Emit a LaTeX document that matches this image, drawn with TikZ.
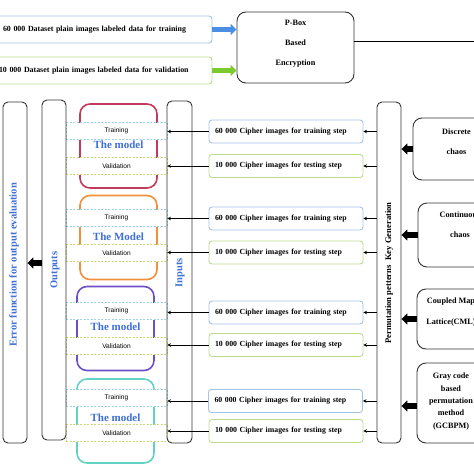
\documentclass[tikz,border=0pt]{standalone}
\usepackage{fontspec}
\setmainfont{Liberation Serif}
\newfontfamily\labsans{Liberation Sans}
\usetikzlibrary{arrows.meta}
\definecolor{bordblue}{HTML}{A4C2E8}
\definecolor{bordgreen}{HTML}{BBDB8E}
\definecolor{arrblue}{HTML}{4A8FE3}
\definecolor{arrgreen}{HTML}{7CCB2E}
\definecolor{mred}{HTML}{C23A5C}
\definecolor{morange}{HTML}{F0903C}
\definecolor{mpurple}{HTML}{6B50C8}
\definecolor{mteal}{HTML}{62D2C2}
\definecolor{tblue}{HTML}{3D6FD6}
\definecolor{bandtrain}{HTML}{9CD4E0}
\definecolor{bandval}{HTML}{CBD972}
\definecolor{edge}{HTML}{333333}
\begin{document}
\begin{tikzpicture}[x=1pt,y=-1pt,
  colbox/.style={draw=edge, line width=0.9pt, rounded corners=5pt, inner sep=0pt, minimum width=24pt},
  modelbox/.style={draw=#1, line width=1.6pt, rounded corners=10pt, minimum width=77pt, minimum height=84pt, inner sep=0pt},
  band/.style={draw=#1, dash pattern=on 2pt off 1.5pt, fill=white, line width=0.8pt, minimum width=101pt, minimum height=17pt, inner sep=0pt, font=\labsans\fontsize{6.6}{7}\selectfont},
  cipher/.style={draw=#1, line width=0.9pt, rounded corners=3pt, minimum height=23pt, text width=142pt, align=left, inner xsep=6pt, inner ysep=0pt, font=\bfseries\fontsize{7.8}{8}\selectfont},
  topbox/.style={draw=#1, line width=0.9pt, rounded corners=3pt, minimum height=27pt, align=left, inner ysep=0pt, font=\bfseries\fontsize{7.9}{9}\selectfont},
  chaosbox/.style={draw=edge, line width=0.9pt, rounded corners=9pt, inner sep=0pt},
  chaostext/.style={align=center, inner sep=0pt, font=\bfseries\fontsize{8.2}{#1}\selectfont},
  modeltext/.style={text=tblue, inner sep=0pt, font=\bfseries\fontsize{11}{12}\selectfont},
  coltext/.style={rotate=90, text=tblue, inner sep=0pt, font=\bfseries\fontsize{10.5}{11}\selectfont},
  thin arrow/.style={line width=0.8pt, -{Stealth[length=3.5pt,width=3.5pt]}},
  block arrow/.style={line width=#1, -{Triangle[length=6pt,width=11pt]}},
]
\useasboundingbox (0,0) rectangle (474,474);

% top part
\node[topbox=bordblue, minimum width=222pt, inner xsep=13pt, text width=196pt] (t1) at (101,29.5) {60 000 Dataset plain images labeled data for training};
\node[topbox=bordgreen, minimum width=222pt, inner xsep=9pt, text width=204pt] (t2) at (101,70.5) {10 000 Dataset plain images labeled data for validation};
\node[chaosbox, minimum width=117pt, minimum height=71pt] (pbox) at (295.5,47.5) {};
\node[chaostext=20] (pboxtext) at (295.5,44) {P-Box\\Based\\Encryption};
\coordinate (pend) at (476,41);
\draw[line width=1pt] (pbox.east |- pend) -- (pend);
\draw[block arrow=5pt, draw=arrblue, fill=arrblue] (t1.east) -- (pbox.west |- t1.east);
\draw[block arrow=5pt, draw=arrgreen, fill=arrgreen] (t2.east) -- (pbox.west |- t2.east);

% model blocks
\node[modelbox=mred] (m1) at (118.5,146) {};
\node[modelbox=morange] (m2) at (118.5,237.5) {};
\node[modelbox=mpurple] (m3) at (115.5,328.5) {};
\node[modelbox=mteal] (m4) at (115.5,421) {};

% bands
\node[band=bandtrain] (b1) at (116.5,131) {Training};
\node[band=bandval] (b2) at (116.5,166) {Validation};
\node[band=bandtrain] (b3) at (116.5,218) {Training};
\node[band=bandval] (b4) at (116.5,253) {Validation};
\node[band=bandtrain] (b5) at (116.5,311) {Training};
\node[band=bandval] (b6) at (116.5,346) {Validation};
\node[band=bandtrain] (b7) at (116.5,398) {Training};
\node[band=bandval] (b8) at (116.5,433) {Validation};

\node[modeltext] (mt1) at (118.5,145) {The model};
\node[modeltext] (mt2) at (118.5,237) {The Model};
\node[modeltext] (mt3) at (115.5,327) {The model};
\node[modeltext] (mt4) at (115.5,418) {The model};

% columns
\node[colbox, minimum height=341pt] (err) at (15,272.5) {};
\node[colbox, minimum height=340pt] (out) at (54,270) {};
\node[colbox, minimum height=342pt, minimum width=25pt] (inp) at (179.5,272) {};
\node[colbox, minimum height=341pt] (kg) at (389,272.5) {};
\node[coltext] (errtext) at (14,265) {Error function for output evaluation};
\node[coltext] (outtext) at (55,270) {Outputs};
\node[coltext] (inptext) at (180,273) {Inputs};
\node[rotate=90, inner sep=0pt, font=\bfseries\fontsize{8.6}{9}\selectfont] (kgtext) at (389,273) {Permutation petterns\ \ Key Generation};

\coordinate (erry) at (0,263);
\draw[block arrow=6.5pt] (out.west |- erry) -- (err.east |- erry);

% cipher boxes
\node[cipher=bordblue] (c1) at (286,131.5) {60 000 Cipher images for training step};
\node[cipher=bordgreen] (c2) at (286,166) {10 000 Cipher images for testing step};
\node[cipher=bordblue] (c3) at (286,218.5) {60 000 Cipher images for training step};
\node[cipher=bordgreen] (c4) at (286,252.5) {10 000 Cipher images for testing step};
\node[cipher=bordblue] (c5) at (286,312.5) {60 000 Cipher images for training step};
\node[cipher=bordgreen] (c6) at (286,345) {10 000 Cipher images for testing step};
\node[cipher=bordblue] (c7) at (285.5,401) {60 000 Cipher images for training step};
\node[cipher=bordgreen] (c8) at (286,431) {10 000 Cipher images for testing step};

\foreach \i in {1,...,8}{
  \draw[thin arrow] (c\i.west) -- (b\i.east |- c\i.west);
  \draw[thin arrow] (kg.west |- c\i.east) -- (c\i.east);
}

% chaos boxes
\node[chaosbox, minimum width=87pt, minimum height=62pt] (ch1) at (456.5,149) {};
\node[chaostext=20] (ch1t) at (456.5,142) {Discrete\\chaos};
\node[chaosbox, minimum width=84pt, minimum height=64pt] (ch2) at (460,235) {};
\node[chaostext=20] (ch2t) at (460,225) {Continuous\\chaos};
\node[chaosbox, minimum width=68pt, minimum height=60pt] (ch3) at (451,319) {};
\node[chaostext=21] (ch3t) at (451,312.5) {Coupled Map\\Lattice(CML)};
\node[chaosbox, minimum width=68pt, minimum height=80pt] (ch4) at (451,403) {};
\node[chaostext=12.3] (ch4t) at (451,401.5) {Gray code\\based\\permutation\\method\\(GCBPM)};

\coordinate (ch4a) at ([yshift=-3pt]ch4.west);
\draw[block arrow=5.5pt] (ch1.west) -- (kg.east |- ch1.west);
\draw[block arrow=5.5pt] (ch2.west) -- (kg.east |- ch2.west);
\draw[block arrow=5.5pt] (ch3.west) -- (kg.east |- ch3.west);
\draw[block arrow=5.5pt] (ch4a) -- (kg.east |- ch4a);
\end{tikzpicture}
\end{document}
